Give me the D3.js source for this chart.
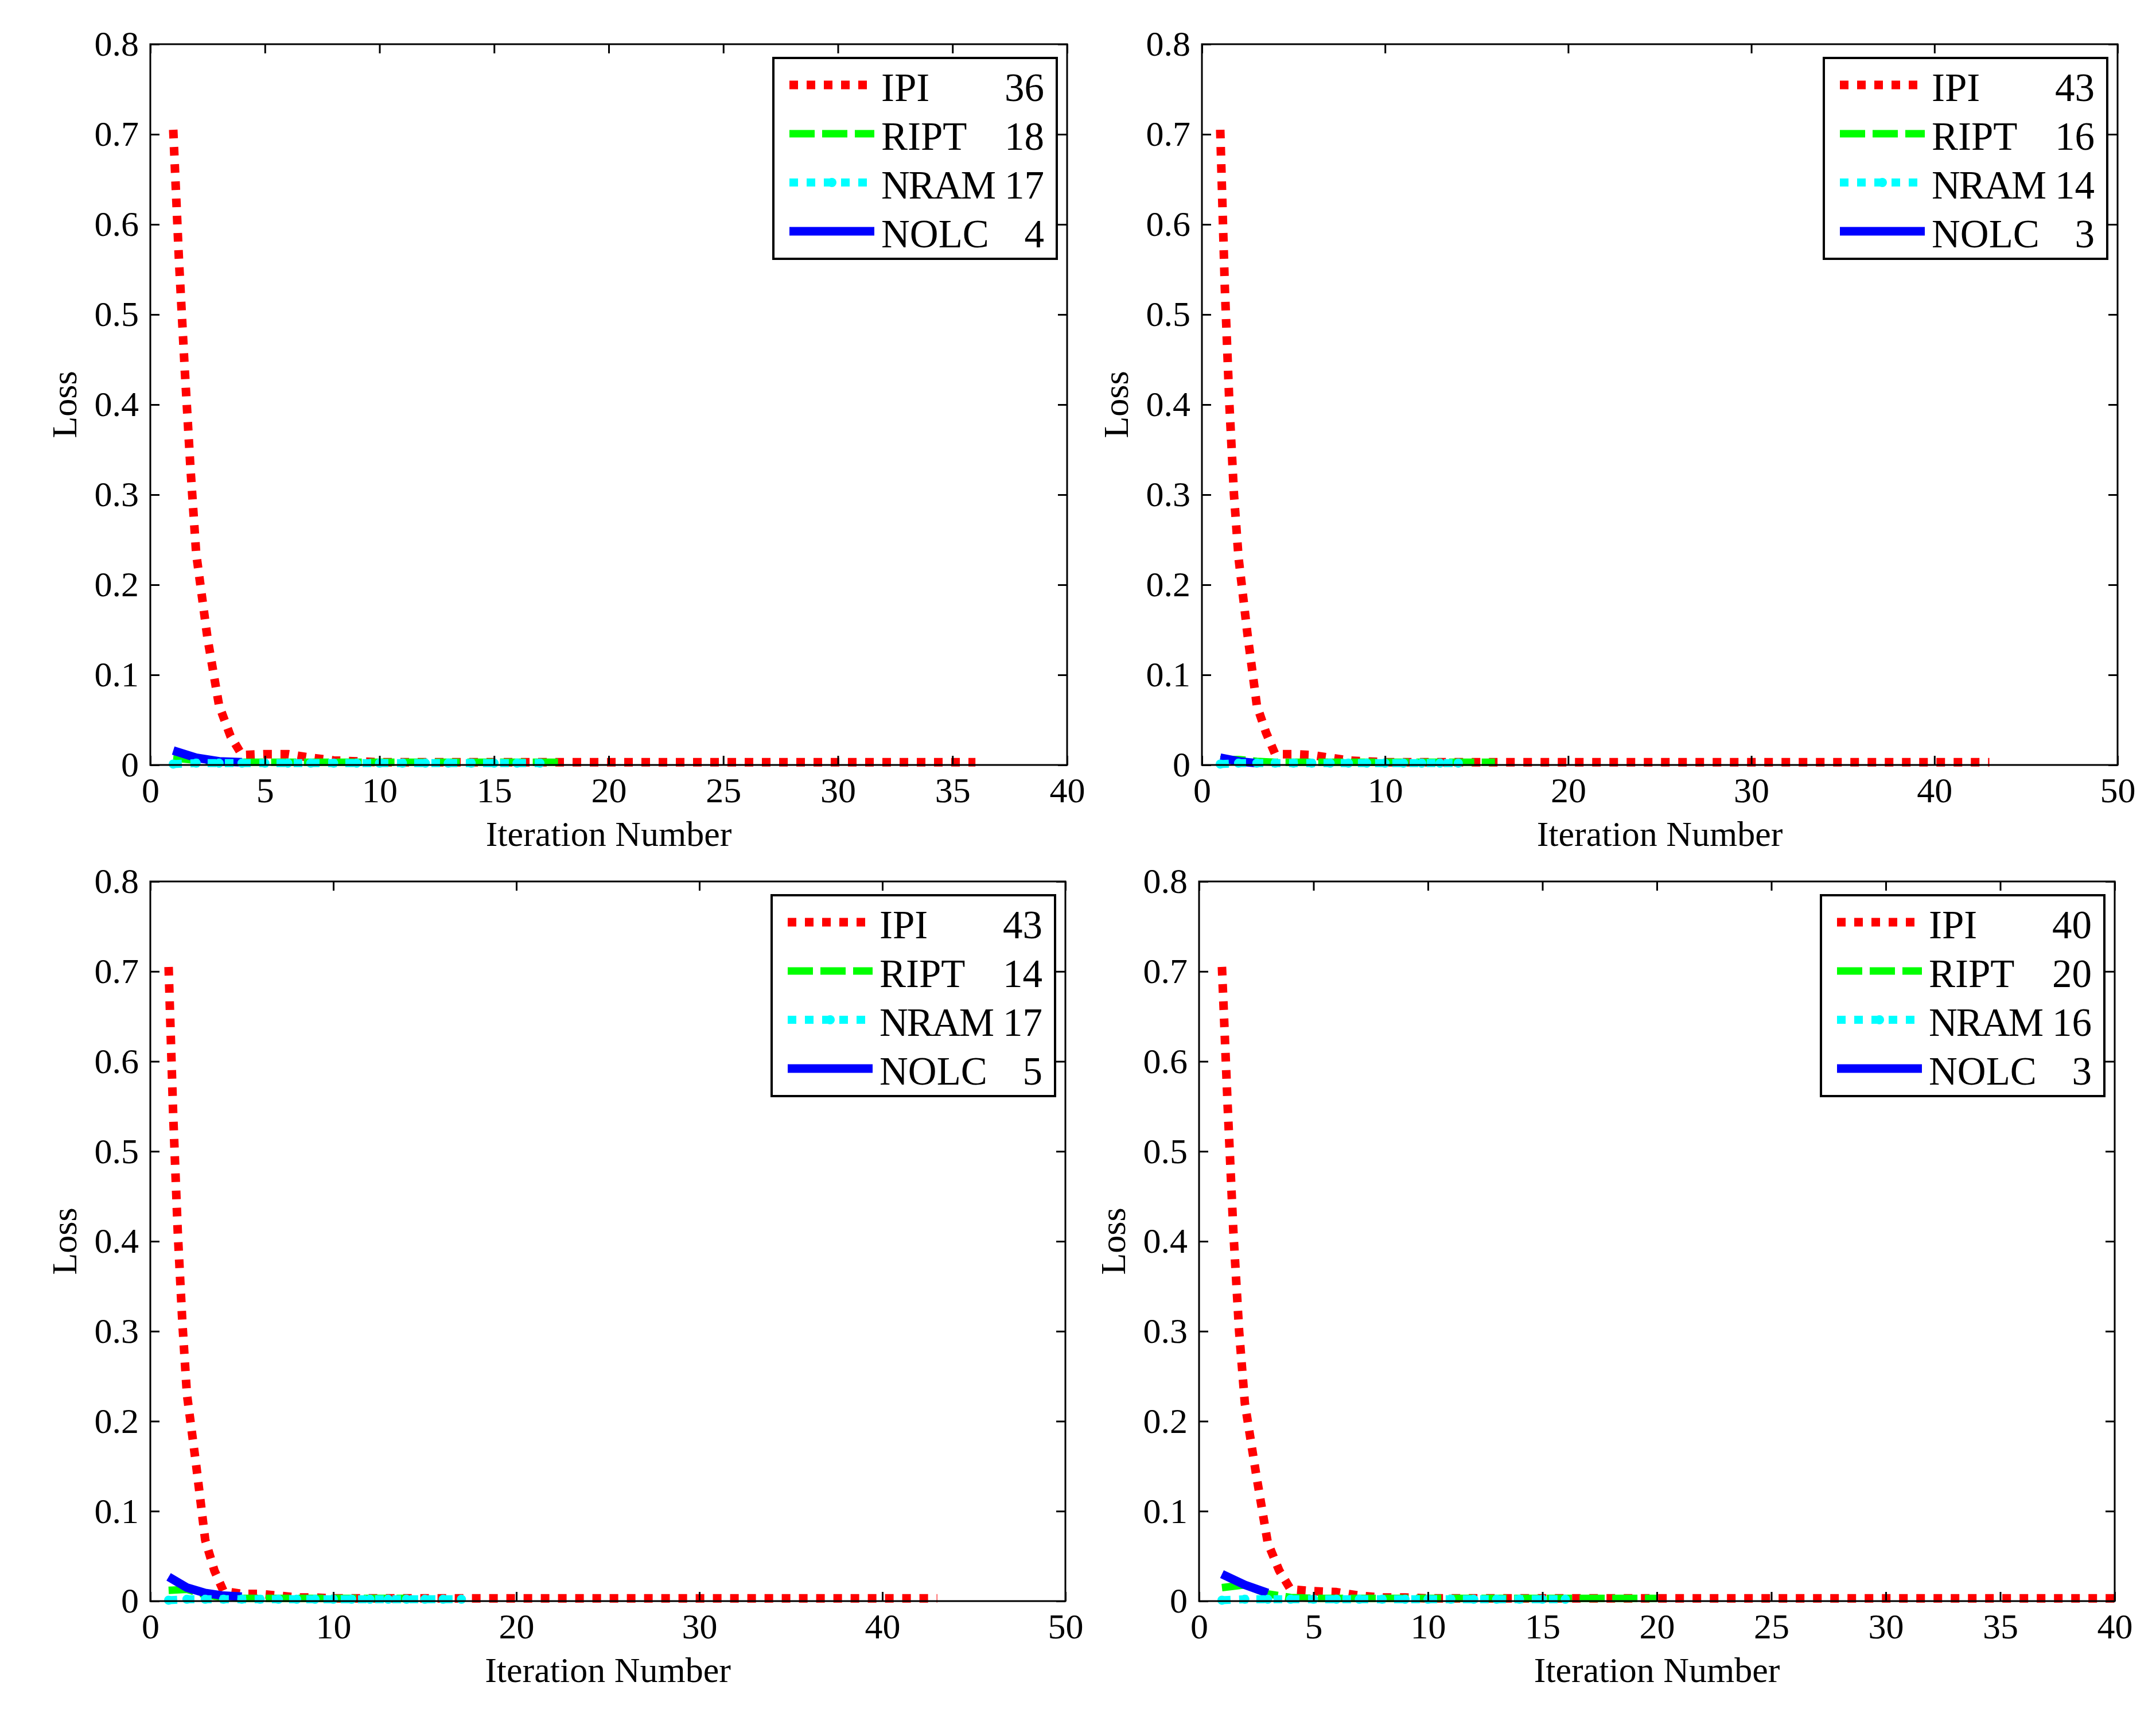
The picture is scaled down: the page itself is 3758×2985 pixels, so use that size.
<!DOCTYPE html>
<html><head><meta charset="utf-8">
<script src="https://cdn.jsdelivr.net/npm/d3@7"></script>
<style>
body{margin:0;background:#fff}
svg{display:block;background:#fff}
text{font-family:"Liberation Serif","Times New Roman",serif;fill:#000}
</style></head>
<body><svg id="c" width="3758" height="2985"></svg>
<script>
// ---------------- DATA ----------------
const seriesNames = ["IPI", "RIPT", "NRAM", "NOLC"];
const yTicks = [0, 0.1, 0.2, 0.3, 0.4, 0.5, 0.6, 0.7, 0.8];
const xTicks40 = [0, 5, 10, 15, 20, 25, 30, 35, 40];
const xTicks50 = [0, 10, 20, 30, 40, 50];
const xLabel = "Iteration Number";
const yLabel = "Loss";

// legend iteration counts per panel (IPI, RIPT, NRAM, NOLC)
const countsTL = [36, 18, 17, 4];
const countsTR = [43, 16, 14, 3];
const countsBL = [43, 14, 17, 5];
const countsBR = [40, 20, 16, 3];

// IPI early readings (fractional positions where the curve bends)
const ipiEarlyIter = [1, 1.25, 1.5, 1.75, 2, 2.5, 3, 3.5];
const ipiEarlyTL = [0.705, 0.56, 0.44, 0.33, 0.235, 0.14, 0.066, 0.032];
const ipiEarlyTR = [0.705, 0.53, 0.40, 0.30, 0.23, 0.143, 0.066, 0.036];
const ipiEarlyBL = [0.705, 0.54, 0.41, 0.31, 0.23, 0.152, 0.068, 0.034];
const ipiEarlyBR = [0.705, 0.55, 0.41, 0.30, 0.22, 0.14, 0.065, 0.034];

// IPI values from iteration 4 onwards
const ipiLateTL = [0.011, 0.012, 0.012, 0.008, 0.005, 0.004,
  0.003, 0.003, 0.003, 0.003, 0.003, 0.003, 0.003, 0.003, 0.003, 0.003,
  0.003, 0.003, 0.003, 0.003, 0.003, 0.003, 0.003, 0.003, 0.003, 0.003,
  0.003, 0.003, 0.003, 0.003, 0.003, 0.003, 0.003];
const ipiLateTR = [0.012, 0.012, 0.011, 0.008, 0.005, 0.004,
  0.003, 0.003, 0.003, 0.003, 0.003, 0.003, 0.003, 0.003, 0.003, 0.003,
  0.003, 0.003, 0.003, 0.003, 0.003, 0.003, 0.003, 0.003, 0.003, 0.003,
  0.003, 0.003, 0.003, 0.003, 0.003, 0.003, 0.003, 0.003, 0.003, 0.003,
  0.003, 0.003, 0.003, 0.003];
const ipiLateBL = [0.011, 0.008, 0.008, 0.006, 0.004, 0.004,
  0.003, 0.003, 0.003, 0.003, 0.003, 0.003, 0.003, 0.003, 0.003, 0.003,
  0.003, 0.003, 0.003, 0.003, 0.003, 0.003, 0.003, 0.003, 0.003, 0.003,
  0.003, 0.003, 0.003, 0.003, 0.003, 0.003, 0.003, 0.003, 0.003, 0.003,
  0.003, 0.003, 0.003, 0.003];
const ipiLateBR = [0.013, 0.011, 0.010, 0.006, 0.004, 0.004,
  0.003, 0.003, 0.003, 0.003, 0.003, 0.003, 0.003, 0.003, 0.003, 0.003,
  0.003, 0.003, 0.003, 0.003, 0.003, 0.003, 0.003, 0.003, 0.003, 0.003,
  0.003, 0.003, 0.003, 0.003, 0.003, 0.003, 0.003, 0.003, 0.003, 0.003,
  0.003];

// RIPT values, iteration 1..N
const riptTL = [0.008, 0.005, 0.004, 0.003, 0.003, 0.003, 0.003, 0.003, 0.003,
  0.003, 0.003, 0.003, 0.003, 0.003, 0.003, 0.003, 0.003, 0.003];
const riptTR = [0.006, 0.006, 0.004, 0.003, 0.003, 0.003, 0.003, 0.003,
  0.003, 0.003, 0.003, 0.003, 0.003, 0.003, 0.003, 0.003];
const riptBL = [0.012, 0.013, 0.007, 0.004, 0.003, 0.003, 0.003,
  0.003, 0.003, 0.003, 0.003, 0.003, 0.003, 0.003];
const riptBR = [0.015, 0.018, 0.008, 0.004, 0.003, 0.003, 0.003, 0.003, 0.003, 0.003,
  0.003, 0.003, 0.003, 0.003, 0.003, 0.003, 0.003, 0.003, 0.003, 0.003];

// NRAM values, iteration 1..N
const nramTL = [0.001, 0.002, 0.002, 0.002, 0.002, 0.002, 0.002, 0.002, 0.002,
  0.002, 0.002, 0.002, 0.002, 0.002, 0.002, 0.002, 0.002];
const nramTR = [0.001, 0.002, 0.002, 0.002, 0.002, 0.002, 0.002,
  0.002, 0.002, 0.002, 0.002, 0.002, 0.002, 0.002];
const nramBL = [0.001, 0.002, 0.002, 0.002, 0.002, 0.002, 0.002, 0.002, 0.002,
  0.002, 0.002, 0.002, 0.002, 0.002, 0.002, 0.002, 0.002];
const nramBR = [0.001, 0.002, 0.002, 0.002, 0.002, 0.002, 0.002, 0.002,
  0.002, 0.002, 0.002, 0.002, 0.002, 0.002, 0.002, 0.002];

// NOLC values, iteration 1..N
const nolcTL = [0.016, 0.008, 0.004, 0.003];
const nolcTR = [0.008, 0.004, 0.002];
const nolcBL = [0.027, 0.015, 0.009, 0.006, 0.005];
const nolcBR = [0.030, 0.018, 0.009];

// ---------------- STYLE / LAYOUT ----------------
const colors = {IPI: "#ff0000", RIPT: "#00ff00", NRAM: "#00ffff", NOLC: "#0000ff"};
const widths = {IPI: 15, RIPT: 13, NRAM: 14, NOLC: 15};
const dashes = {IPI: "15,15", RIPT: "44,13", NRAM: "15,15", NOLC: null};

const panels = [
  {xMax: 40, xTicks: xTicks40, counts: countsTL, ipiEarly: ipiEarlyTL, ipiLate: ipiLateTL,
   ript: riptTL, nram: nramTL, nolc: nolcTL, box: {left: 262, right: 1860, top: 77, bottom: 1333}},
  {xMax: 50, xTicks: xTicks50, counts: countsTR, ipiEarly: ipiEarlyTR, ipiLate: ipiLateTR,
   ript: riptTR, nram: nramTR, nolc: nolcTR, box: {left: 2095, right: 3691, top: 77, bottom: 1333}},
  {xMax: 50, xTicks: xTicks50, counts: countsBL, ipiEarly: ipiEarlyBL, ipiLate: ipiLateBL,
   ript: riptBL, nram: nramBL, nolc: nolcBL, box: {left: 262, right: 1857, top: 1536, bottom: 2790}},
  {xMax: 40, xTicks: xTicks40, counts: countsBR, ipiEarly: ipiEarlyBR, ipiLate: ipiLateBR,
   ript: riptBR, nram: nramBR, nolc: nolcBR, box: {left: 2090, right: 3686, top: 1536, bottom: 2790}}
];

const svg = d3.select("#c");
svg.append("rect").attr("width", 3758).attr("height", 2985).attr("fill", "#fff");

const FS = 62, LFS = 69;

function drawPanel(p) {
  const B = p.box;
  const x = d3.scaleLinear().domain([0, p.xMax]).range([B.left, B.right]);
  const y = d3.scaleLinear().domain([0, 0.8]).range([B.bottom, B.top]);
  const g = svg.append("g");
  const line = d3.line().x(d => x(d[0])).y(d => y(d[1]));

  const data = {
    IPI: ipiEarlyIter.map((it, i) => [it, p.ipiEarly[i]]).concat(p.ipiLate.map((v, i) => [i + 4, v])),
    RIPT: p.ript.map((v, i) => [i + 1, v]),
    NRAM: p.nram.map((v, i) => [i + 1, v]),
    NOLC: p.nolc.map((v, i) => [i + 1, v])
  };
  const order = ["IPI", "RIPT", "NOLC", "NRAM"];
  order.forEach(name => {
    const path = g.append("path").datum(data[name])
      .attr("d", line).attr("fill", "none")
      .attr("stroke", colors[name]).attr("stroke-width", widths[name])
      .attr("stroke-linecap", "butt").attr("stroke-linejoin", "round");
    if (dashes[name]) path.attr("stroke-dasharray", dashes[name]);
    if (name === "NRAM") {
      g.selectAll(null).data(data[name]).enter().append("circle")
        .attr("cx", d => x(d[0])).attr("cy", d => y(d[1])).attr("r", 8)
        .attr("fill", colors[name]);
    }
  });

  // axes (ticks pointing inward on all four sides)
  const styleAxis = a => {
    a.select(".domain").remove();
    a.selectAll(".tick line").attr("stroke", "#000").attr("stroke-width", 3);
    a.selectAll("text").attr("font-size", FS).attr("font-family", "Liberation Serif, Times New Roman, serif").attr("fill", "#000");
  };
  svg.append("g").attr("transform", `translate(0,${B.bottom})`)
    .call(d3.axisBottom(x).tickValues(p.xTicks).tickSize(-16).tickPadding(21).tickFormat(d3.format("d")))
    .call(styleAxis);
  svg.append("g").attr("transform", `translate(0,${B.top})`)
    .call(d3.axisTop(x).tickValues(p.xTicks).tickSize(-16).tickFormat(""))
    .call(styleAxis);
  svg.append("g").attr("transform", `translate(${B.left},0)`)
    .call(d3.axisLeft(y).tickValues(yTicks).tickSize(-16).tickPadding(20).tickFormat(d => d === 0 ? "0" : d3.format(".1f")(d)))
    .call(styleAxis);
  svg.append("g").attr("transform", `translate(${B.right},0)`)
    .call(d3.axisRight(y).tickValues(yTicks).tickSize(-16).tickFormat(""))
    .call(styleAxis);

  svg.append("rect").attr("x", B.left).attr("y", B.top)
    .attr("width", B.right - B.left).attr("height", B.bottom - B.top)
    .attr("fill", "none").attr("stroke", "#000").attr("stroke-width", 3);

  // axis labels
  svg.append("text").attr("x", (B.left + B.right) / 2).attr("y", B.bottom + 141)
    .attr("text-anchor", "middle").attr("font-size", FS).text(xLabel);
  svg.append("text").attr("transform", `translate(${B.left - 129},${(B.top + B.bottom) / 2}) rotate(-90)`)
    .attr("text-anchor", "middle").attr("font-size", FS).text(yLabel);

  // legend
  const lw = 494, lh = 350;
  const lx = B.right - 18 - lw, ly = B.top + 24;
  const lg = svg.append("g").attr("transform", `translate(${lx},${ly})`);
  lg.append("rect").attr("width", lw).attr("height", lh).attr("fill", "#fff")
    .attr("stroke", "#000").attr("stroke-width", 4);
  seriesNames.forEach((name, i) => {
    const cy = 47 + i * 85;
    const s = lg.append("line").attr("x1", 28).attr("x2", 176).attr("y1", cy).attr("y2", cy)
      .attr("stroke", colors[name]).attr("stroke-width", widths[name]);
    if (dashes[name]) s.attr("stroke-dasharray", dashes[name]);
    if (name === "NRAM") lg.append("circle").attr("cx", 102).attr("cy", cy).attr("r", 8).attr("fill", colors[name]);
    lg.append("text").attr("x", 188).attr("y", cy + 28).attr("font-size", LFS)
      .attr("textLength", name === "NRAM" ? 200 : null).text(name);
    lg.append("text").attr("x", 472).attr("y", cy + 28).attr("font-size", LFS)
      .attr("text-anchor", "end").text(p.counts[i]);
  });
}

panels.forEach(drawPanel);
</script>
</body></html>
